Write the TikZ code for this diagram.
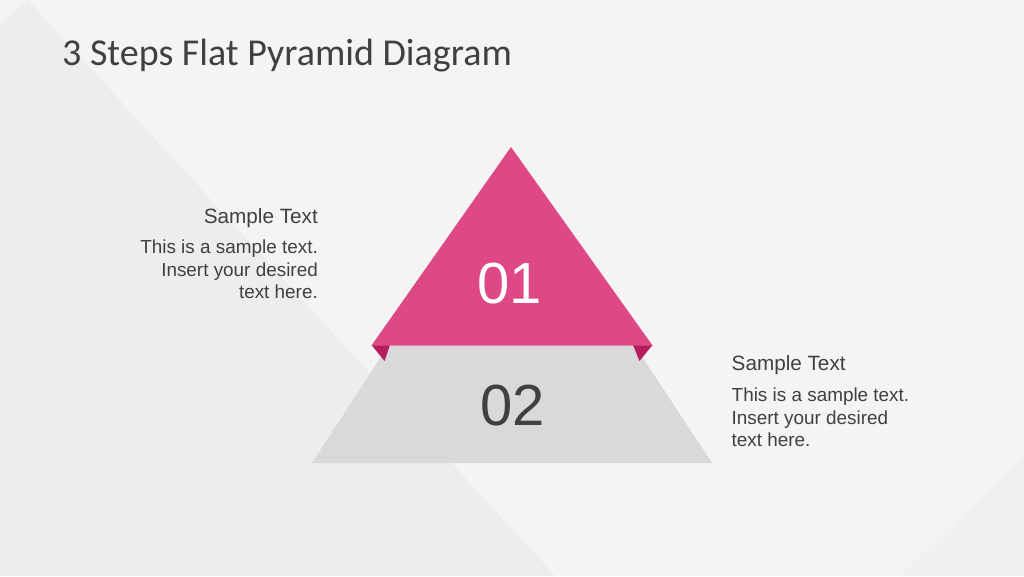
\documentclass[tikz,border=0pt]{standalone}
\usepackage{fontspec}
\setmainfont{Liberation Sans}
\newfontfamily\titlefont{Carlito}
\definecolor{bgmain}{HTML}{F4F4F4}
\definecolor{bgdark}{HTML}{EDEDED}
\definecolor{bgcorner}{HTML}{F0F0F0}
\definecolor{pinkc}{HTML}{DE4886}
\definecolor{pinkdark}{HTML}{B51E5D}
\definecolor{grayc}{HTML}{D9D9D9}
\definecolor{textc}{HTML}{404040}
\tikzset{
  headtext/.style={inner sep=0pt, text=textc, font=\fontsize{20.7}{24}\selectfont},
  bodytext/.style={inner sep=0pt, text=textc, font=\fontsize{18.9}{22.7}\selectfont},
  numtext/.style={inner sep=0pt, font=\fontsize{58}{60}\selectfont},
}
\begin{document}
\begin{tikzpicture}[x=1pt,y=-1pt]
\useasboundingbox (0,0) rectangle (1024,576);
% background
\fill[bgmain] (0,0) rectangle (1024,576);
\fill[bgdark] (28,0) -- (555,576) -- (0,576) -- (0,25) -- cycle;
\fill[bgcorner] (1024,455) -- (900,576) -- (1024,576) -- cycle;
% title
\node[inner sep=0pt, anchor=base west, text=textc, font=\titlefont\fontsize{38}{42}\selectfont] (title) at (62,65) {3 Steps Flat Pyramid Diagram};
% pyramid
\fill[grayc] (388,346) -- (635,346) -- (712,463) -- (312,463) -- cycle;
\fill[pinkdark] (371.5,345) -- (390,345) -- (384.5,361) -- cycle;
\fill[pinkdark] (633,345) -- (652.5,345) -- (639.5,361) -- cycle;
\fill[pinkc] (511,147) -- (652.5,345.5) -- (371.5,345.5) -- cycle;
\node[numtext, anchor=base, text=white] (n1) at (510,303.3) {01};
\node[numtext, anchor=base, text=textc] (n2) at (513,425) {02};
% left texts
\node[headtext, anchor=base east] (h1) at (318,223) {Sample Text};
\node[bodytext, anchor=base east] (b1a) at (318,253.3) {This is a sample text.};
\node[bodytext, anchor=base east] (b1b) at (318,276) {Insert your desired};
\node[bodytext, anchor=base east] (b1c) at (318,298.7) {text here.};
% right texts
\node[headtext, anchor=base west] (h2) at (731.5,370) {Sample Text};
\node[bodytext, anchor=base west] (b2a) at (731.5,401.5) {This is a sample text.};
\node[bodytext, anchor=base west] (b2b) at (731.5,424.2) {Insert your desired};
\node[bodytext, anchor=base west] (b2c) at (731.5,446.9) {text here.};
\end{tikzpicture}
\end{document}
